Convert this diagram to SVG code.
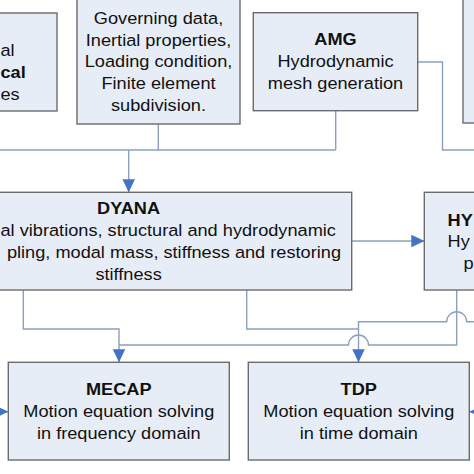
<svg xmlns="http://www.w3.org/2000/svg" width="474" height="474" viewBox="0 0 474 474">
<defs>
<marker id="arr" markerUnits="userSpaceOnUse" markerWidth="13" markerHeight="13" refX="13" refY="6.25" orient="auto">
<path d="M0,0 L13,6.25 L0,12.5 z" fill="#4472C4"/>
</marker>
<style>
.box{fill:#E7EDF6;stroke:#6B6B6B;stroke-width:1.4}
.t{font-family:"Liberation Sans",Arial,sans-serif;font-size:17px;fill:#111;text-anchor:middle}
.b{font-weight:bold}
.e{text-anchor:end}
.s{text-anchor:start}
.c{fill:none;stroke:#8CA0BE;stroke-width:1.4}
.a{marker-end:url(#arr)}
</style>
</defs>
<rect width="474" height="474" fill="#fff"/>
<g id="connectors">
<path class="c" d="M-10 150 H335.7 M158.3 124 V150 M335.7 110.7 V150"/>
<path class="c a" d="M128.7 150 V192.3"/>
<path class="c" d="M417.7 62 H442.5 V150 H480"/>
<path class="c a" d="M351.7 241 H424.3"/>
<path class="c a" d="M23.3 290 V329 H119 V362.3"/>
<path class="c" d="M246.7 290 V329 H358.5"/>
<path class="c a" d="M480 321.7 H466.7 A10 10 0 0 0 446.7 321.7 H358.5 V362.3"/>
<path class="c" d="M456.7 290 V345 H368.5 A10 10 0 0 0 348.5 345 H119"/>
<path class="c a" d="M-10 411.7 H8.3"/>
<path class="c a" d="M484 411.7 H469.3"/>
</g>
<g id="n-left">
<rect class="box" x="-60" y="13" width="117" height="98"/>
<text class="t s" transform="translate(0.5 0) scale(1.07 1)" x="0" y="56">al</text>
<text class="t s b" transform="translate(0.5 0) scale(1.07 1)" x="0" y="78">cal</text>
<text class="t s" transform="translate(0.5 0) scale(1.07 1)" x="0" y="100">es</text>
</g>
<g id="n-gov">
<rect class="box" x="77" y="-3" width="163" height="127"/>
<g transform="translate(158.5 0) scale(1.07 1)">
<text class="t" x="0" y="24">Governing data,</text>
<text class="t" x="0" y="45.7">Inertial properties,</text>
<text class="t" x="0" y="67.3">Loading condition,</text>
<text class="t" x="0" y="89">Finite element</text>
<text class="t" x="0" y="110.7">subdivision.</text>
</g>
</g>
<g id="n-amg">
<rect class="box" x="253.3" y="12.7" width="164.4" height="98"/>
<g transform="translate(335.5 0) scale(1.07 1)">
<text class="t b" x="0" y="45">AMG</text>
<text class="t" x="0" y="67">Hydrodynamic</text>
<text class="t" x="0" y="89">mesh generation</text>
</g>
</g>
<g id="n-right">
<rect class="box" x="463" y="-3" width="30" height="126"/>
</g>
<g id="n-dyana">
<rect class="box" x="-96" y="192.3" width="447.7" height="97.7"/>
<g transform="translate(128.6 0) scale(1.07 1)">
<text class="t b" x="0" y="214">DYANA</text>
<text class="t" x="0" y="280">stiffness</text>
</g>
<text class="t s" transform="translate(0.5 0) scale(1.07 1)" x="0" y="236">al vibrations, structural and hydrodynamic</text>
<text class="t e" transform="translate(341 0) scale(1.07 1)" x="0" y="258">pling, modal mass, stiffness and restoring</text>
</g>
<g id="n-hy">
<rect class="box" x="424.3" y="192.3" width="80" height="97.7"/>
<text class="t s b" transform="translate(447.5 0) scale(1.07 1)" x="0" y="226">HY</text>
<text class="t s" transform="translate(447.5 0) scale(1.07 1)" x="0" y="247.5">Hy</text>
<text class="t s" transform="translate(463.5 0) scale(1.07 1)" x="0" y="269">p</text>
</g>
<g id="n-mecap">
<rect class="box" x="8.3" y="362.3" width="221" height="97.7"/>
<g transform="translate(118.8 0) scale(1.07 1)">
<text class="t b" x="0" y="395">MECAP</text>
<text class="t" x="0" y="417">Motion equation solving</text>
<text class="t" x="0" y="439">in frequency domain</text>
</g>
</g>
<g id="n-tdp">
<rect class="box" x="248.3" y="362.3" width="221" height="97.7"/>
<g transform="translate(358.8 0) scale(1.07 1)">
<text class="t b" x="0" y="395">TDP</text>
<text class="t" x="0" y="417">Motion equation solving</text>
<text class="t" x="0" y="439">in time domain</text>
</g>
</g>
</svg>
